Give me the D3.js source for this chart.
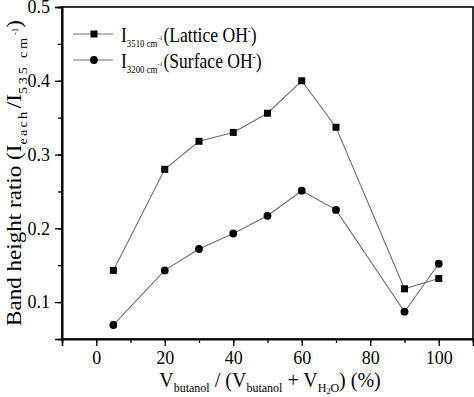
<!DOCTYPE html>
<html>
<head>
<meta charset="utf-8">
<script src="https://cdn.jsdelivr.net/npm/d3@7"></script>
<style>
  body { margin: 0; background: #fff; }
</style>
</head>
<body>
<div id="chart"></div>
<script>
const volume = [5, 20, 30, 40, 50, 60, 70, 90, 100]
const lattice = [0.143, 0.280, 0.318, 0.330, 0.356, 0.400, 0.337, 0.118, 0.132]
const surface = [0.069, 0.143, 0.172, 0.193, 0.217, 0.251, 0.225, 0.087, 0.152]
const xTicks = [0, 20, 40, 60, 80, 100]
const yTicks = [0.1, 0.2, 0.3, 0.4, 0.5]

const width = 474, height = 397
const plotLeft = 62, plotRight = 473, plotTop = 7, plotBottom = 339

// pick the first serif face that is really installed
const probe = document.createElement("canvas").getContext("2d")
const widthIn = (f) => { probe.font = `40px ${f}`; return probe.measureText("Band height ratio 0123456789").width }
const serifFont = ["Liberation Serif", "Times New Roman", "Tinos", "DejaVu Serif", "Noto Serif"]
  .find(f => widthIn(`"${f}", monospace`) !== widthIn("monospace")) || "serif"
const fontFamily = `"${serifFont}", serif`

const svg = d3.select("#chart")
  .append("svg")
  .attr("width", width)
  .attr("height", height)
  .style("font-family", fontFamily)

const x = d3.scaleLinear().domain([-10, 110]).range([plotLeft, plotRight])
const y = d3.scaleLinear().domain([0.05, 0.5]).range([plotBottom, plotTop])

// frame
svg.append("rect")
  .attr("x", plotLeft).attr("y", plotTop)
  .attr("width", plotRight - plotLeft).attr("height", plotBottom - plotTop)
  .attr("fill", "none").attr("stroke", "#000").attr("stroke-width", 1.6)

// x axis
const xAxis = svg.append("g").attr("transform", `translate(0,${plotBottom})`)
xAxis.append("g").call(d3.axisBottom(x).tickValues(d3.range(-10, 111, 10)).tickSize(4).tickFormat(""))
xAxis.append("g").call(d3.axisBottom(x).tickValues(xTicks).tickSize(7).tickPadding(5).tickFormat(d3.format("d")))
xAxis.selectAll(".domain").attr("stroke-width", 1.6)
xAxis.selectAll("line").attr("stroke-width", 1.3)
xAxis.selectAll("g").attr("font-family", fontFamily)
xAxis.selectAll("text").attr("font-size", 18)

// y axis
const yAxis = svg.append("g").attr("transform", `translate(${plotLeft},0)`)
yAxis.append("g").call(d3.axisLeft(y).tickValues(d3.range(0.05, 0.51, 0.05)).tickSize(4).tickFormat(""))
yAxis.append("g").call(d3.axisLeft(y).tickValues(yTicks).tickSize(7).tickPadding(5).tickFormat(d3.format(".1f")))
yAxis.selectAll(".domain").attr("stroke-width", 1.6)
yAxis.selectAll("line").attr("stroke-width", 1.3)
yAxis.selectAll("g").attr("font-family", fontFamily)
yAxis.selectAll("text").attr("font-size", 18)

const line = d3.line()
  .x((d, i) => x(volume[i]))
  .y(d => y(d))

const drawSeries = (values, shape) => {
  svg.append("path")
    .attr("d", line(values))
    .attr("fill", "none")
    .attr("stroke", "#707070")
    .attr("stroke-width", 1.1)
  const g = svg.append("g")
  if (shape === "square") {
    g.selectAll("rect").data(values).enter().append("rect")
      .attr("x", (d, i) => x(volume[i]) - 3.5)
      .attr("y", d => y(d) - 3.5)
      .attr("width", 7).attr("height", 7)
      .attr("fill", "#000")
  } else {
    g.selectAll("circle").data(values).enter().append("circle")
      .attr("cx", (d, i) => x(volume[i]))
      .attr("cy", d => y(d))
      .attr("r", 3.9)
      .attr("fill", "#000")
  }
}
drawSeries(lattice, "square")
drawSeries(surface, "circle")

// legend
const legend = [
  { shape: "square", code: "3510 cm", label: "(Lattice OH" },
  { shape: "circle", code: "3200 cm", label: "(Surface OH" }
]
legend.forEach((d, i) => {
  const ly = 34 + i * 26
  svg.append("line")
    .attr("x1", 73).attr("x2", 113).attr("y1", ly).attr("y2", ly)
    .attr("stroke", "#707070").attr("stroke-width", 1.1)
  if (d.shape === "square") {
    svg.append("rect").attr("x", 90.5).attr("y", ly - 3.5).attr("width", 7).attr("height", 7).attr("fill", "#000")
  } else {
    svg.append("circle").attr("cx", 94).attr("cy", ly).attr("r", 3.9).attr("fill", "#000")
  }
  const t = svg.append("text")
    .attr("transform", `translate(121,${ly + 7.5}) scale(0.88,1)`)
    .attr("font-size", 20)
  t.append("tspan").text("I")
  t.append("tspan").attr("font-size", 10).attr("dy", 5).text(d.code)
  t.append("tspan").attr("font-size", 7).attr("dy", -7).text("-1")
  t.append("tspan").attr("dy", 2).attr("dx", 1).text(d.label)
  t.append("tspan").attr("font-size", 10).attr("dy", -8).text("-")
  t.append("tspan").attr("dy", 8).text(")")
})

// y title
const yt = svg.append("text")
  .attr("transform", `translate(21,173) rotate(-90) scale(1.1,1)`)
  .attr("text-anchor", "middle")
  .attr("font-size", 21)
yt.append("tspan").text("Band height ratio (I")
yt.append("tspan").attr("font-size", 13).attr("letter-spacing", 2).attr("dy", 6).text("each")
yt.append("tspan").attr("dy", -6).attr("font-size", 22).attr("dx", 1).text("/")
yt.append("tspan").text("I")
yt.append("tspan").attr("font-size", 13).attr("letter-spacing", 2.5).attr("dy", 6).text("535 cm")
yt.append("tspan").attr("font-size", 8).attr("dy", -9).text("-1")
yt.append("tspan").attr("dy", 3).text(")")

// x title
const xt = svg.append("text")
  .attr("x", 270).attr("y", 387)
  .attr("text-anchor", "middle")
  .attr("font-size", 20)
xt.append("tspan").text("V")
xt.append("tspan").attr("font-size", 12).attr("dy", 5).text("butanol")
xt.append("tspan").attr("dy", -5).text(" / (V")
xt.append("tspan").attr("font-size", 12).attr("dy", 5).text("butanol")
xt.append("tspan").attr("dy", -5).text(" + V")
xt.append("tspan").attr("font-size", 12).attr("dy", 5).text("H")
xt.append("tspan").attr("font-size", 8).attr("dy", 2).text("2")
xt.append("tspan").attr("font-size", 12).attr("dy", -2).text("O")
xt.append("tspan").attr("dy", -5).text(") (%)")
</script>
</body>
</html>
